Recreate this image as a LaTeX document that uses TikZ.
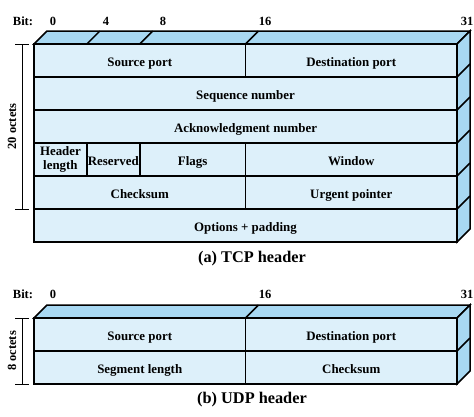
\documentclass[tikz,border=0pt]{standalone}
\usepackage{fontspec}
\setmainfont{Liberation Serif}
\usepackage{xcolor}
\usetikzlibrary{positioning}

\definecolor{frontblue}{RGB}{221,240,250}
\definecolor{topblue}{RGB}{168,216,242}
\newcommand{\bw}{13.21875}

\begin{document}
\begin{tikzpicture}[x=1pt,y=-1pt,
  field/.style={draw,fill=frontblue,line width=1.9pt,minimum height=33,inner sep=0pt,outer sep=0pt,
    anchor=north west,align=center,text height=12pt,text depth=0.5pt,
    font=\fontsize{12.9}{13.6}\selectfont\bfseries},
  depth/.style={draw,fill=topblue,line width=1.5pt,line join=miter},
  depthline/.style={line width=1.5pt},
  bitlabel/.style={font=\fontsize{12.5}{14}\selectfont\bfseries,inner sep=0pt},
  caption/.style={font=\fontsize{16.3}{18}\selectfont\bfseries,inner sep=0pt},
  bracket/.style={line width=0.8pt}]
\useasboundingbox (0,0) rectangle (474,416);

% TCP header
\begin{scope}[shift={(34,44)}]
\draw[depth] (0,0) -- (13,-13) -- (436,-13) -- (423,0) -- cycle;
\draw[depth] (423,0) -- (436,-13) -- (436,185) -- (423,198) -- cycle;
\foreach \b in {4,8,16} \draw[depthline] ({\b*\bw},0) -- ({\b*\bw+13},-13);
\foreach \r in {1,...,5} \draw[depthline] (423,{33*\r}) -- (436,{33*\r-13});
\node[field,minimum width=\bw*16] (tsrc) at (0,0) {Source port};
\node[field,minimum width=\bw*16] (tdst) at ({16*\bw},0) {Destination port};
\node[field,minimum width=423] (tseq) at (0,33) {Sequence number};
\node[field,minimum width=423] (tack) at (0,66) {Acknowledgment number};
\node[field,minimum width=\bw*4,text height=,text depth=] (thlen) at (0,99) {Header\\[0.6pt]length};
\node[field,minimum width=\bw*4] (tres) at ({4*\bw},99) {Reserved};
\node[field,minimum width=\bw*8] (tflags) at ({8*\bw},99) {Flags};
\node[field,minimum width=\bw*16] (twin) at ({16*\bw},99) {Window};
\node[field,minimum width=\bw*16] (tcks) at (0,132) {Checksum};
\node[field,minimum width=\bw*16] (turg) at ({16*\bw},132) {Urgent pointer};
\node[field,minimum width=423] (topt) at (0,165) {Options + padding};
% bit numbers
\node[bitlabel] (tbit) at (-11,-23) {Bit:};
\node[bitlabel] (tb0) at (19,-23) {0};
\node[bitlabel] (tb4) at (72,-23) {4};
\node[bitlabel] (tb8) at (129,-23) {8};
\node[bitlabel] (tb16) at (231,-23) {16};
\node[bitlabel] (tb31) at (433,-23) {31};
% size bracket
\coordinate (ttop) at (-12,0);
\coordinate (tbot) at (-12,165);
\draw[bracket] (ttop) -- (tbot);
\draw[bracket] ([xshift=-7pt]ttop) -- ([xshift=7pt]ttop);
\draw[bracket] ([xshift=-7pt]tbot) -- ([xshift=7pt]tbot);
\node[bitlabel,rotate=90] (toct) at (-22,82.5) {20 octets};
\node[caption] (tcap) at (218,215) {(a) TCP header};
\end{scope}

% UDP header
\begin{scope}[shift={(34,318)}]
\draw[depth] (0,0) -- (13,-13) -- (436,-13) -- (423,0) -- cycle;
\draw[depth] (423,0) -- (436,-13) -- (436,53) -- (423,66) -- cycle;
\draw[depthline] ({16*\bw},0) -- ({16*\bw+13},-13);
\draw[depthline] (423,33) -- (436,20);
\node[field,minimum width=\bw*16] (usrc) at (0,0) {Source port};
\node[field,minimum width=\bw*16] (udst) at ({16*\bw},0) {Destination port};
\node[field,minimum width=\bw*16] (ulen) at (0,33) {Segment length};
\node[field,minimum width=\bw*16] (ucks) at ({16*\bw},33) {Checksum};
% bit numbers
\node[bitlabel] (ubit) at (-11,-24) {Bit:};
\node[bitlabel] (ub0) at (19,-24) {0};
\node[bitlabel] (ub16) at (231,-24) {16};
\node[bitlabel] (ub31) at (433,-24) {31};
% size bracket
\coordinate (utop) at (-12,0);
\coordinate (ubot) at (-12,66);
\draw[bracket] (utop) -- (ubot);
\draw[bracket] ([xshift=-7pt]utop) -- ([xshift=7pt]utop);
\draw[bracket] ([xshift=-7pt]ubot) -- ([xshift=7pt]ubot);
\node[bitlabel,rotate=90] (uoct) at (-22,33) {8 octets};
\node[caption] (ucap) at (218,82) {(b) UDP header};
\end{scope}
\end{tikzpicture}
\end{document}
